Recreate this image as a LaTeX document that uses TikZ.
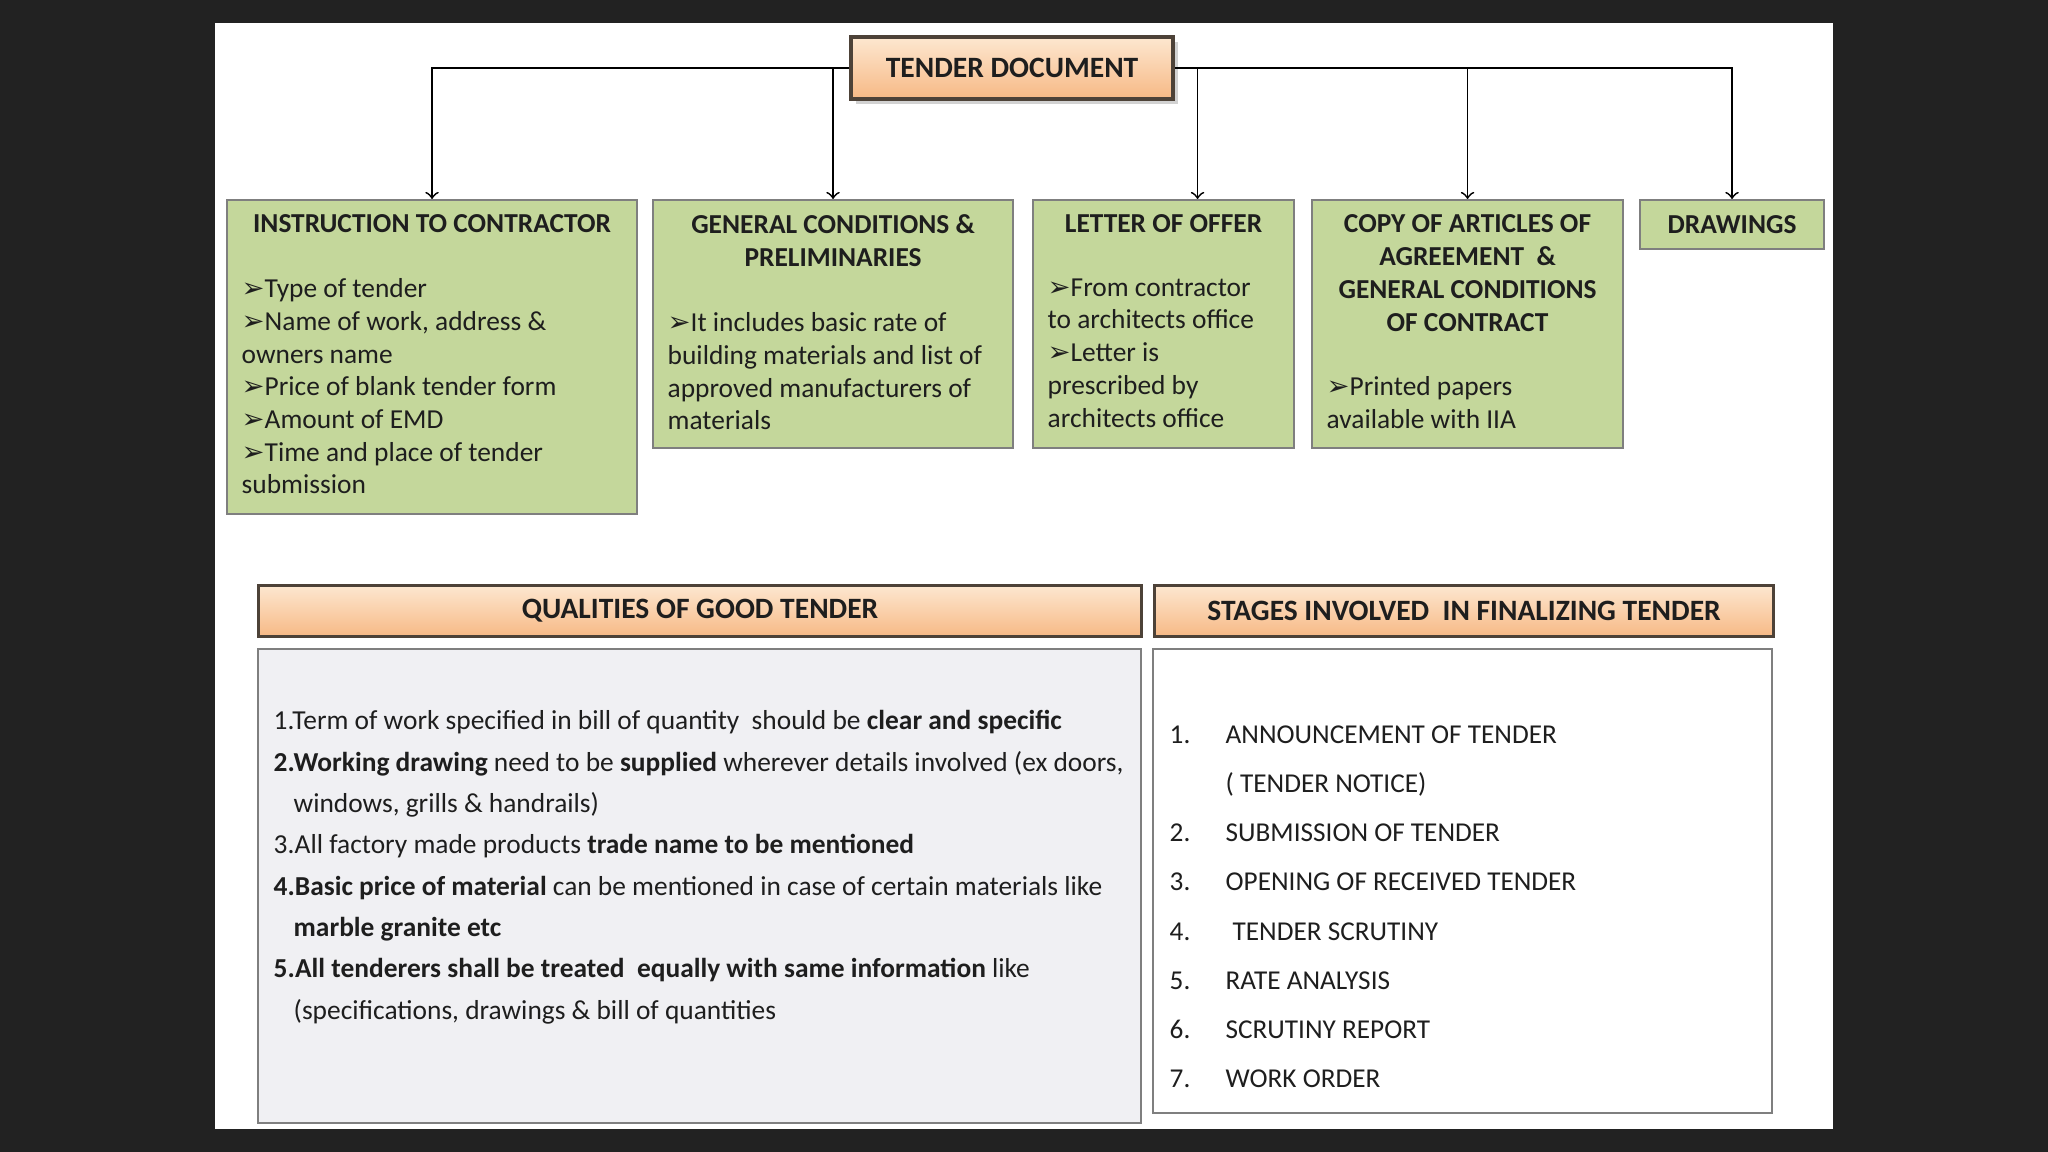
\documentclass[tikz,border=0pt]{standalone}
\usepackage{fontspec}
\setmainfont{Carlito}
\newfontfamily\dejavu[Scale=1.0]{DejaVu Sans}
\usetikzlibrary{positioning,shadows}

\definecolor{slidebg}{HTML}{222222}
\definecolor{boxgreen}{HTML}{C4D79B}
\definecolor{boxline}{HTML}{7F7F7F}
\definecolor{hdtop}{HTML}{FDE7D0}
\definecolor{hdbot}{HTML}{F7B985}
\definecolor{hdline}{HTML}{4D4238}
\definecolor{qfill}{HTML}{F0F0F3}
\definecolor{ink}{HTML}{1E1E1E}

\newcommand{\pnt}{{\dejavu\bfseries ➢}}

\tikzset{
	gbox/.style={draw=boxline, fill=boxgreen, line width=0.6pt, inner sep=0pt, anchor=north west},
	hdbox/.style={draw=hdline, line width=0.9pt, top color=hdtop, bottom color=hdbot, inner sep=0pt, anchor=north west,
		font=\bfseries\fontsize{8.4}{9}\selectfont, text=ink},
	ttl/.style={font=\bfseries\fontsize{7.8}{9.4}\selectfont, align=center, inner sep=0pt, text=ink, anchor=north},
	body/.style={font=\fontsize{7.8}{9.3}\selectfont, align=left, inner sep=0pt, text=ink, anchor=north west},
	link/.style={->, line width=0.5pt, black}
}

\begin{document}
\begin{tikzpicture}
	\useasboundingbox (0,0) rectangle (20.48,-11.52);
	\fill[slidebg] (0,0) rectangle (20.48,-11.52);
	\fill[white] (2.15,-0.23) rectangle (18.33,-11.29);

	% top of the tree
	\node[hdbox, line width=1.2pt, minimum width=3.22cm, minimum height=0.62cm, font=\bfseries\fontsize{8.4}{9}\selectfont,
		drop shadow={opacity=0.35, shadow xshift=1.5pt, shadow yshift=-1.5pt}] (tend) at (8.49,-0.35) {TENDER DOCUMENT};

	% green boxes
	\node[gbox, minimum width=4.10cm, minimum height=3.14cm] (ins) at (2.26,-1.99) {};
	\node[gbox, minimum width=3.60cm, minimum height=2.48cm] (gen) at (6.52,-1.99) {};
	\node[gbox, minimum width=2.61cm, minimum height=2.48cm] (let) at (10.32,-1.99) {};
	\node[gbox, minimum width=3.11cm, minimum height=2.48cm] (cop) at (13.11,-1.99) {};
	\node[gbox, minimum width=1.84cm, minimum height=0.49cm] (drw) at (16.39,-1.99) {};

	\node[ttl] (ins-t) at ([yshift=-0.15cm]ins.north) {INSTRUCTION TO CONTRACTOR};
	\node[body] (ins-b) at ([xshift=0.15cm, yshift=-0.79cm]ins.north west)
		{\pnt Type of tender\\ \pnt Name of work, address \&\\ owners name\\ \pnt Price of blank tender form\\
		\pnt Amount of EMD\\ \pnt Time and place of tender\\ submission};

	\node[ttl] (gen-t) at ([yshift=-0.15cm]gen.north) {GENERAL CONDITIONS \&\\ PRELIMINARIES};
	\node[body] (gen-b) at ([xshift=0.15cm, yshift=-1.13cm]gen.north west)
		{\pnt It includes basic rate of\\ building materials and list of\\ approved manufacturers of\\ materials};

	\node[ttl] (let-t) at ([yshift=-0.15cm]let.north) {LETTER OF OFFER};
	\node[body] (let-b) at ([xshift=0.15cm, yshift=-0.79cm]let.north west)
		{\pnt From contractor\\ to architects office\\ \pnt Letter is\\ prescribed by\\ architects office};

	\node[ttl] (cop-t) at ([yshift=-0.15cm]cop.north) {COPY OF ARTICLES OF\\ AGREEMENT \ \&\\ GENERAL CONDITIONS\\ OF CONTRACT};
	\node[body] (cop-b) at ([xshift=0.15cm, yshift=-1.77cm]cop.north west)
		{\pnt Printed papers\\ available with IIA};

	\node[ttl, anchor=center] (drw-t) at (drw.center) {DRAWINGS};

	% connectors
	\coordinate (let-in) at ([xshift=0.34cm]let.north);
	\draw[link] (tend.west) -| (ins.north);
	\draw[link] (tend.west -| gen.north) -- (gen.north);
	\draw[link] (tend.east -| let-in) -- (let-in);
	\draw[link] (tend.east -| cop.north) -- (cop.north);
	\draw[link] (tend.east) -| (drw.north);

	% lower panels
	\node[hdbox, minimum width=8.83cm, minimum height=0.51cm] (qhd) at (2.57,-5.84) {QUALITIES OF GOOD TENDER};
	\node[hdbox, minimum width=6.19cm, minimum height=0.51cm] (shd) at (11.53,-5.84) {STAGES INVOLVED \ IN FINALIZING TENDER};

	\node[draw=boxline, fill=qfill, line width=0.6pt, minimum width=8.83cm, minimum height=4.74cm, anchor=north west] (qbox) at (2.57,-6.48) {};
	\node[draw=boxline, fill=white, line width=0.6pt, minimum width=6.19cm, minimum height=4.64cm, anchor=north west] (sbox) at (11.52,-6.48) {};

	\node[body, font=\fontsize{7.8}{11.75}\selectfont] (q-list) at ([xshift=0.16cm, yshift=-0.62cm]qbox.north west)
		{1.Term of work specified in bill of quantity \ should be \textbf{clear and specific}\\
		\textbf{2.Working drawing} need to be \textbf{supplied} wherever details involved (ex doors,\\
		\hspace*{0.2cm}windows, grills \& handrails)\\
		3.All factory made products \textbf{trade name to be mentioned}\\
		\textbf{4.Basic price of material} can be mentioned in case of certain materials like\\
		\hspace*{0.2cm}\textbf{marble granite etc}\\
		\textbf{5.All tenderers shall be treated \ equally with same information} like\\
		\hspace*{0.2cm}(specifications, drawings \& bill of quantities};

	\node[body, font=\fontsize{7.75}{14}\selectfont] (s-list) at ([xshift=0.17cm, yshift=-0.77cm]sbox.north west)
		{\makebox[0.56cm][l]{1.}ANNOUNCEMENT OF TENDER\\
		\hspace*{0.56cm}( TENDER NOTICE)\\
		\makebox[0.56cm][l]{2.}SUBMISSION OF TENDER\\
		\makebox[0.56cm][l]{3.}OPENING OF RECEIVED TENDER\\
		\makebox[0.63cm][l]{4.}TENDER SCRUTINY\\
		\makebox[0.56cm][l]{5.}RATE ANALYSIS\\
		\makebox[0.56cm][l]{6.}SCRUTINY REPORT\\
		\makebox[0.56cm][l]{7.}WORK ORDER};
\end{tikzpicture}
\end{document}
